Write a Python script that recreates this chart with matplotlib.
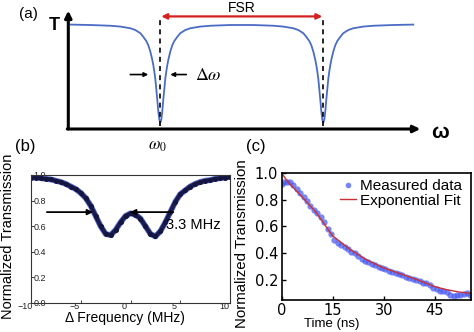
import numpy as np
import matplotlib
matplotlib.use("Agg")
import matplotlib.pyplot as plt
from matplotlib.transforms import ScaledTranslation

W, H = 474, 332

# (a) schematic resonance: dip centres and one-sided dip profile (offset, T)
dip_centres = [92, 255]
dip_offsets = [0, 1, 2, 3, 4, 5, 6, 7, 8, 10, 12, 14, 17, 20, 25, 30, 40, 50, 70, 90]
dip_T = [0.06, 0.09, 0.17, 0.28, 0.38, 0.48, 0.55, 0.61, 0.66, 0.74, 0.80, 0.84,
         0.88, 0.915, 0.945, 0.962, 0.978, 0.986, 0.993, 0.997]

# (b) transmission vs detuning
b_freq = [-10, -9.5, -9, -8.5, -8, -7.5, -7, -6.5, -6, -5.5, -5, -4.5, -4, -3.5,
          -3, -2.5, -2, -1.5, -1, -0.5, 0, 0.5, 1, 1.5, 2, 2.5, 3, 3.5, 4, 4.5,
          5, 5.5, 6, 6.5, 7, 7.5, 8, 8.5, 9, 9.5, 10]
b_trans = [0.98, 0.98, 0.975, 0.97, 0.965, 0.955, 0.945, 0.93, 0.91, 0.89, 0.86,
           0.82, 0.76, 0.68, 0.60, 0.54, 0.53, 0.57, 0.63, 0.68, 0.70, 0.69, 0.66,
           0.60, 0.54, 0.52, 0.56, 0.63, 0.71, 0.79, 0.85, 0.88, 0.91, 0.93, 0.945,
           0.955, 0.96, 0.97, 0.975, 0.98, 0.985]

# (c) ring-down
c_time = [0, 0.7, 1.5, 2.5, 3.5, 4.5, 5.5, 6.5, 7.5, 8.5, 9.5, 10.5, 11.5, 12.5,
          13.5, 14.5, 15.5, 16.5, 17.5, 18.5, 19.5, 20.5, 21.5, 22.5, 23.5, 24.5,
          25.5, 26.5, 27.5, 28.5, 29.5, 30.5, 31.5, 32.5, 33.5, 34.5, 35.5, 36.5,
          37.5, 38.5, 39.5, 40.5, 41.5, 42.5, 43.5, 44.5, 45.5, 46.5, 47.5, 48.5,
          49.5, 50.5, 51.5, 52.5, 53.5, 54.5, 55.2]
c_meas = [0.92, 0.93, 0.935, 0.93, 0.91, 0.88, 0.85, 0.82, 0.79, 0.75, 0.72, 0.70,
          0.67, 0.63, 0.58, 0.54, 0.50, 0.48, 0.46, 0.45, 0.43, 0.41, 0.40, 0.38,
          0.36, 0.345, 0.335, 0.32, 0.31, 0.30, 0.29, 0.28, 0.27, 0.26, 0.25, 0.245,
          0.235, 0.225, 0.215, 0.21, 0.20, 0.195, 0.18, 0.175, 0.16, 0.14, 0.13,
          0.12, 0.115, 0.11, 0.09, 0.08, 0.085, 0.09, 0.095, 0.10, 0.09]
fit_time = [0, 2, 5, 10, 15, 20, 25, 30, 35, 40, 45, 48, 52, 55.5]
fit_vals = [1.0, 0.93, 0.85, 0.71, 0.53, 0.43, 0.35, 0.29, 0.245, 0.20, 0.15, 0.13, 0.11, 0.10]


def fx(x):
    return x / W


def fy(y):
    return 1 - y / H


def box(x0, y0, x1, y1):
    # axes rectangle from pixel corners (left, top, right, bottom)
    return [x0 / W, 1 - y1 / H, (x1 - x0) / W, (y1 - y0) / H]


plt.rcParams["font.family"] = ["Liberation Sans", "DejaVu Sans"]
plt.rcParams["mathtext.fontset"] = "stix"
fig = plt.figure(figsize=(W / 100, H / 100), dpi=100)

# ---------------- (a) ----------------
ax = fig.add_axes(box(68.3, 13.8, 420, 129))
ax.set_xlim(0, 351.7)
ax.set_ylim(0, 1.1)
ax.axis("off")

off = np.array(dip_offsets, float)
tt = np.array(dip_T)
mid = off <= 70
c1, c2 = dip_centres
xa = np.concatenate([c1 - off[::-1], c1 + off[1:][mid[1:]],
                     c2 - off[mid][::-1], c2 + off[1:]])
ya = np.concatenate([tt[::-1], tt[1:][mid[1:]], tt[mid][::-1], tt[1:]])
ax.plot(xa, ya, color="#4a6cc4", lw=1.3)

for c in dip_centres:
    ax.plot([c, c], [0.03, 1.07], color="black", lw=1.2, ls=(0, (3, 2.5)))
ax.annotate("", xy=(c2 - 1, 1.075), xytext=(c1 + 1, 1.075),
            arrowprops=dict(arrowstyle="<|-|>", color="#d42020", lw=1.6,
                            mutation_scale=8, shrinkA=0, shrinkB=0),
            annotation_clip=False)
ax.text((c1 + c2) / 2, 1.16, "FSR", ha="center", va="center", fontsize=10,
        clip_on=False)

# axis arrows
ax.annotate("", xy=(0, 1.13), xytext=(0, 0),
            arrowprops=dict(arrowstyle="-|>", color="black", lw=2.2,
                            mutation_scale=10, shrinkA=0, shrinkB=0),
            annotation_clip=False)
ax.annotate("", xy=(352, 0), xytext=(-1, 0),
            arrowprops=dict(arrowstyle="-|>", color="black", lw=2.2,
                            mutation_scale=10, shrinkA=0, shrinkB=0),
            annotation_clip=False)

# linewidth arrows
ax.annotate("", xy=(80, 0.52), xytext=(62, 0.52),
            arrowprops=dict(arrowstyle="-|>", color="black", lw=1.2,
                            mutation_scale=6, shrinkA=0, shrinkB=0))
ax.annotate("", xy=(102, 0.52), xytext=(118, 0.52),
            arrowprops=dict(arrowstyle="-|>", color="black", lw=1.2,
                            mutation_scale=6, shrinkA=0, shrinkB=0))

fig.text(fx(28), fy(14), "(a)", fontsize=11, ha="center", va="center")
fig.text(fx(54), fy(25), "T", fontsize=13, fontweight="bold", ha="center", va="center")
fig.text(fx(440), fy(132), "ω", fontsize=15, fontweight="bold", ha="center", va="center")
fig.text(fx(157), fy(147), r"$\omega_0$", fontsize=12, ha="center", va="center")
fig.text(fx(195), fy(75), r"$\Delta\omega$", fontsize=13, ha="left", va="center")
fig.text(fx(25), fy(147), "(b)", fontsize=12, ha="center", va="center")
fig.text(fx(256), fy(147), "(c)", fontsize=12, ha="center", va="center")

# ---------------- (b) ----------------
bx = fig.add_axes(box(31, 175, 230, 303))
bx.plot(b_freq, b_trans, color="#5a70d0", lw=4.2)
bx.plot(b_freq, b_trans, color="#1b1b4d", lw=3.0)
bx.plot(b_freq, b_trans, ls="none", marker="o", ms=3.6, color="#15153f", mec="none")
bx.set_xlim(-10, 10)
bx.set_ylim(0, 1.0)
bx.set_xticks([-10, -5, 0, 5, 10])
bx.set_yticks([0.0, 0.2, 0.4, 0.6, 0.8, 1.0])
bx.set_yticklabels(["0.0", "0.2", "0.4", "0.6", "0.8", "1.0"])
bx.tick_params(direction="in", length=2, width=0.6, labelsize=6.5, colors="#222222")
bx.tick_params(axis="y", pad=-2)
bx.tick_params(axis="x", pad=-1)
for lab in bx.get_yticklabels():
    lab.set_horizontalalignment("left")
shift = ScaledTranslation(-6 / 100, 0, fig.dpi_scale_trans)
for lab in bx.get_xticklabels():
    lab.set_transform(lab.get_transform() + shift)
for s in bx.spines.values():
    s.set_linewidth(0.8)
    s.set_color("#333333")

bx.annotate("", xy=(-3.77, 0.71), xytext=(-8.4, 0.71),
            arrowprops=dict(arrowstyle="-|>", color="black", lw=1.3,
                            mutation_scale=8, shrinkA=0, shrinkB=0))
bx.annotate("", xy=(-0.05, 0.71), xytext=(4.3, 0.71),
            arrowprops=dict(arrowstyle="-|>", color="black", lw=1.3,
                            mutation_scale=8, shrinkA=0, shrinkB=0))
bx.text(3.57, 0.61, "3.3 MHz", fontsize=10.5, ha="left", va="center")

fig.text(fx(8), fy(236), "Normalized Transmission", rotation=90, fontsize=10.5,
         ha="center", va="center")
fig.text(fx(125), fy(318), "Δ Frequency (MHz)", fontsize=10, ha="center", va="center")

# ---------------- (c) ----------------
cx = fig.add_axes(box(281.5, 173, 471, 300))
cx.plot(c_time, c_meas, ls="none", marker="o", ms=4.5, color="#4a5cf2", alpha=0.75,
        mec="none", label="Measured data")
cx.plot(fit_time, fit_vals, color="#c83236", lw=1.0, label="Exponential Fit")
cx.set_xlim(0, 55.6)
cx.set_ylim(0.05, 1.0)
cx.set_xticks([0, 15, 30, 45])
cx.set_yticks([0.2, 0.4, 0.6, 0.8, 1.0])
cx.set_yticklabels(["0.2", "0.4", "0.6", "0.8", "1.0"])
cx.tick_params(direction="in", length=3, width=1.0, pad=2.5)
for lab in cx.get_xticklabels() + cx.get_yticklabels():
    lab.set_fontfamily("DejaVu Sans")
    lab.set_fontsize(10.5)
for s in cx.spines.values():
    s.set_linewidth(1.2)
cx.legend(loc="upper left", bbox_to_anchor=(fx(340), fy(179)),
          bbox_transform=fig.transFigure, frameon=False, fontsize=11,
          handlelength=1.05, handletextpad=0.25, labelspacing=0.05,
          borderpad=0, borderaxespad=0, markerscale=0.9)

fig.text(fx(242), fy(244), "Normalized Transmission", rotation=90, fontsize=10.8,
         ha="center", va="center")
fig.text(fx(332), fy(324), "Time (ns)", fontsize=9.5, ha="center", va="center")

fig.savefig("out.png", dpi=100)
